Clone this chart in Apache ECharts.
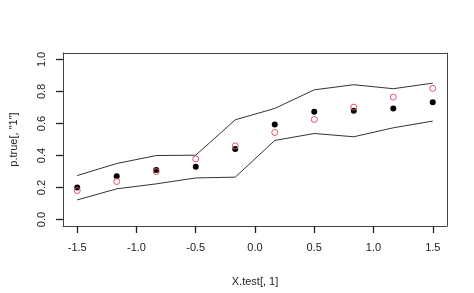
<!DOCTYPE html>
<html>
<head>
<meta charset="utf-8">
<script src="https://cdn.jsdelivr.net/npm/echarts@6/dist/echarts.min.js"></script>
<style>
  html, body { margin: 0; padding: 0; background: #fff; }
  #main { width: 474px; height: 293px; }
</style>
</head>
<body>
<div id="main"></div>
<script>
// x positions of the test points
const xTest = [-1.5, -1.1667, -0.8333, -0.5, -0.1667, 0.1667, 0.5, 0.8333, 1.1667, 1.5]
// estimated probability (black dots)
const pHat = [0.20, 0.27, 0.31, 0.33, 0.44, 0.594, 0.673, 0.679, 0.694, 0.733]
// true probability (red circles)
const pTrue = [0.181, 0.238, 0.30, 0.379, 0.46, 0.544, 0.625, 0.702, 0.765, 0.819]
// band
const upper = [0.275, 0.35, 0.40, 0.402, 0.623, 0.694, 0.81, 0.842, 0.817, 0.852]
const lower = [0.123, 0.192, 0.223, 0.26, 0.265, 0.494, 0.5375, 0.517, 0.573, 0.615]

const xTicks = [-1.5, -1.0, -0.5, 0.0, 0.5, 1.0, 1.5]
const yTicks = [0.0, 0.2, 0.4, 0.6, 0.8, 1.0]

const pair = (xs, ys) => xs.map((x, i) => [x, ys[i]])
const font = 'Liberation Sans, Arial, sans-serif'
const axisCol = '#444'
const xRange = { min: -1.62, max: 1.62 }
const yRange = { min: -0.04, max: 1.04 }

// plain edge axis used to close the box on top / right
const edge = (pos, range) => Object.assign({
  type: 'value', position: pos,
  axisLine: { show: true, onZero: false, lineStyle: { color: axisCol, width: 1 } },
  axisTick: { show: false }, axisLabel: { show: false }, splitLine: { show: false }
}, range)

const myChart = echarts.init(document.getElementById('main'))

myChart.setOption({
  animation: false,
  grid: { left: 53, right: 27, top: 53, bottom: 67 },
  xAxis: [{
    type: 'value',
    min: xRange.min,
    max: xRange.max,
    position: 'bottom',
    name: 'X.test[, 1]',
    nameLocation: 'middle',
    nameGap: 50,
    nameTextStyle: { fontFamily: font, fontSize: 11, color: '#222' },
    axisLine: { show: true, onZero: false, lineStyle: { color: axisCol, width: 1 } },
    splitLine: { show: false },
    axisTick: {
      show: true, inside: false, length: 7, lineStyle: { color: '#222', width: 1.3 },
      customValues: xTicks
    },
    axisLabel: {
      customValues: xTicks,
      fontFamily: font, fontSize: 11, color: '#222', margin: 16,
      formatter: v => v.toFixed(1)
    }
  }, edge('top', xRange)],
  yAxis: [{
    type: 'value',
    min: yRange.min,
    max: yRange.max,
    position: 'left',
    name: 'p.true[, "1"]',
    nameLocation: 'middle',
    nameGap: 44,
    nameRotate: 90,
    nameTextStyle: { fontFamily: font, fontSize: 11, color: '#222' },
    axisLine: { show: true, onZero: false, lineStyle: { color: axisCol, width: 1 } },
    splitLine: { show: false },
    axisTick: {
      show: true, inside: false, length: 7, lineStyle: { color: '#222', width: 1.3 },
      customValues: yTicks
    },
    axisLabel: {
      customValues: yTicks,
      rotate: 90,
      fontFamily: font, fontSize: 11, color: '#222', margin: 16,
      formatter: v => v.toFixed(1)
    }
  }, edge('right', yRange)],
  series: [
    {
      type: 'line', data: pair(xTest, upper), symbol: 'none',
      lineStyle: { color: '#333', width: 1 }, z: 2
    },
    {
      type: 'line', data: pair(xTest, lower), symbol: 'none',
      lineStyle: { color: '#333', width: 1 }, z: 2
    },
    {
      type: 'scatter', data: pair(xTest, pHat), symbol: 'circle', symbolSize: 6,
      itemStyle: { color: '#000', opacity: 1 }, z: 3
    },
    {
      type: 'scatter', data: pair(xTest, pTrue), symbol: 'circle', symbolSize: 6,
      itemStyle: { color: 'rgba(0,0,0,0)', borderColor: '#DF536B', borderWidth: 1, opacity: 1 }, z: 4
    }
  ]
})
</script>
</body>
</html>
